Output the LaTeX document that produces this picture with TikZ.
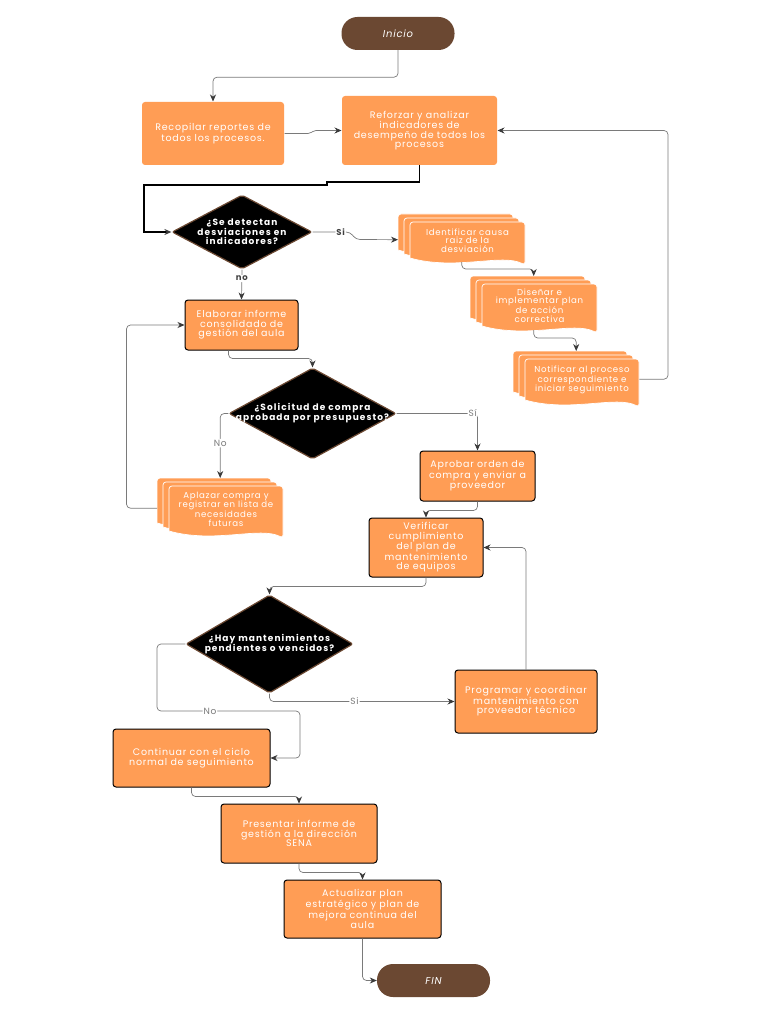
\documentclass[tikz,border=0pt]{standalone}
\usepackage{fontspec}
\setmainfont{Poppins}
\newfontfamily\boxfont[LetterSpace=8]{Poppins}
\newfontfamily\decfont[LetterSpace=12]{Poppins}
\usetikzlibrary{shapes.geometric,arrows.meta}
\definecolor{orng}{HTML}{FF9D55}
\definecolor{brwn}{HTML}{6B4832}
\definecolor{lgray}{HTML}{7A7A7A}
\definecolor{tipc}{HTML}{3A3A3A}
\tikzset{
  box/.style={rectangle, rounded corners=3pt, fill=orng, draw=black, line width=1pt, text=white, align=center, font=\boxfont\fontsize{9.5}{9.4}\selectfont, inner sep=0pt},
  boxnb/.style={box, draw=none},
  term/.style={rectangle, rounded corners=16pt, fill=brwn, draw=none, text=white, font=\boxfont\itshape\fontsize{10}{11}\selectfont, minimum width=113pt, minimum height=33pt},
  dec/.style={diamond, fill=black, draw=brwn, line width=1.2pt, rounded corners=2pt, inner sep=0pt},
  dtext/.style={text=white, align=center, font=\decfont\bfseries\fontsize{9}{8.8}\selectfont},
  conn/.style={draw=lgray, line width=0.7pt, rounded corners=4pt, -{Stealth[length=7pt,width=6pt,color=tipc]}},
  lbl/.style={text=lgray, fill=white, inner sep=1pt, font=\boxfont\fontsize{9}{10}\selectfont},
  lblb/.style={text=black!75, fill=white, inner sep=1pt, font=\boxfont\bfseries\fontsize{8.5}{9}\selectfont},
  page/.style={fill=orng, draw=white, line width=0.7pt},
  dtxt/.style={text=white, align=center, font=\boxfont\fontsize{8.6}{8.5}\selectfont},
}
% multi-document: #1 name, #2 front x0, #3 front y0, #4 W, #5 H, #6 text
\newcommand\mdoc[6]{%
  \foreach \k in {2,1,0}{%
    \pgfmathsetmacro\px{#2-6*\k}%
    \pgfmathsetmacro\py{#3-4*\k}%
    \draw[page, rounded corners=3pt] (\px,{\py+#5-7}) -- (\px,\py) -- ({\px+#4},\py) -- ({\px+#4},{\py+#5})
      [sharp corners] .. controls ({\px+0.8*#4},{\py+#5-12}) and ({\px+0.4*#4},{\py+#5+6}) .. (\px,{\py+#5-7}) -- cycle;
  }%
  \node[minimum width={#4+12}, minimum height={#5+8}, inner sep=0pt, anchor=north west] (#1) at ({#2-12},{#3-8}) {};
  \coordinate (#1-b) at ({#2+0.45*#4},{#3+#5-3});
  \node[dtxt] (#1t) at ({#2+0.5*#4},{#3+0.5*(#5-6)}) {#6};
}
\begin{document}
\begin{tikzpicture}[x=1pt,y=-1pt]
\useasboundingbox (0,0) rectangle (768,1024);
\fill[white] (0,0) rectangle (768,1024);

% nodes
\node[term] (ini) at (398,33.5) {Inicio};
\node[boxnb, minimum width=142pt, minimum height=63pt] (rec) at (213,133.5) {Recopilar reportes de\\todos los procesos.};
\node[boxnb, minimum width=155pt, minimum height=69pt] (ref) at (419.5,130.5) {Reforzar y analizar\\indicadores de\\desempeño de todos los\\procesos};
\node[dec, minimum width=140pt, minimum height=74pt] (d1) at (242,232) {};
\node[dtext] at (d1) {¿Se detectan\\desviaciones en\\indicadores?};
\node[box, minimum width=113pt, minimum height=50pt] (ela) at (241.5,325) {Elaborar informe\\consolidado de\\gestión del aula};
\node[dec, minimum width=167pt, minimum height=91pt] (d2) at (312.5,413.5) {};
\node[dtext] at (d2) {¿Solicitud de compra\\aprobada por presupuesto?};
\node[box, minimum width=115pt, minimum height=50pt] (apr) at (477.5,476) {Aprobar orden de\\compra y enviar a\\proveedor};
\node[box, minimum width=114pt, minimum height=59pt] (ver) at (426,547.5) {Verificar\\cumplimiento\\del plan de\\mantenimiento\\de equipos};
\node[dec, minimum width=167pt, minimum height=98pt] (d3) at (269.5,644) {};
\node[dtext] at (d3) {¿Hay mantenimientos\\pendientes o vencidos?};
\node[box, minimum width=142pt, minimum height=63pt] (pro) at (526,701.5) {Programar y coordinar\\mantenimiento con\\proveedor técnico};
\node[box, minimum width=157pt, minimum height=58pt] (con) at (191.5,758) {Continuar con el ciclo\\normal de seguimiento};
\node[box, minimum width=156pt, minimum height=59pt] (pre) at (299,833.5) {Presentar informe de\\gestión a la dirección\\SENA};
\node[box, minimum width=157pt, minimum height=58pt] (act) at (362.5,909) {Actualizar plan\\estratégico y plan de\\mejora continua del\\aula};
\node[term] (fin) at (433.5,980.5) {FIN};

\mdoc{idn}{410}{222}{115}{43}{Identificar causa\\raiz de la\\desviación}
\mdoc{dis}{482}{284}{115}{49}{Diseñar e\\implementar plan\\de acción\\correctiva}
\mdoc{noti}{525}{359}{114}{48}{Notificar al proceso\\correspondiente e\\iniciar seguimiento}
\mdoc{apl}{169}{486}{114}{52}{Aplazar compra y\\registrar en lista de\\necesidades\\futuras}

% connectors
\draw[conn] (ini.south) -- ++(0,27) -| (rec.north);
\draw[conn, rounded corners=2pt] (rec.east) -- (310,133.5) -- (314,130.5) -- (ref.west);
\draw[line width=1.6pt, black, -{Stealth[length=7pt,width=6pt,color=tipc]}] (ref.south) -- (419.5,182) -- (327,182) -- (327,185) -- (144,185) -- (144,232) -- (d1.west);
\draw[conn] (d1.east) -- node[lblb, pos=0.75]{Si} (350,232) -- (356,239.5) -- (idn.west);
\draw[conn] (d1.south) -- node[lblb, pos=0.3]{no} (ela.north);
\draw[conn] (idn-b) -- ++(0,7) -| (dis.north);
\draw[conn] (dis-b) -- ++(0,8) -| (noti.north);
\coordinate (r1) at (668,130.5);
\draw[conn] (noti.east) -| (r1) -- (ref.east);
\draw[conn] ([xshift=-13pt]ela.south) -- ++(0,8) -| (d2.north);
\draw[conn] (d2.east) -| node[lbl, pos=0.47]{Sí} (apr.north);
\draw[conn] (d2.west) -| node[lbl, pos=0.73]{No} (apl.north);
\draw[conn] (apl.west) -| ([xshift=-58pt]ela.west) -- (ela.west);
\draw[conn] (apr.south) -- ++(0,9) -| (ver.north);
\draw[conn] (ver.south) -- ++(0,9) -| (d3.north);
\draw[conn] (d3.south) |- node[lbl, pos=0.73]{Si} (pro.west);
\draw[conn] (d3.west) -| (157,711) -- node[lbl, pos=0.37]{No} (300,711) |- (con.east);
\draw[conn] (pro.north) |- (ver.east);
\draw[conn] (con.south) -- ++(0,9) -| (pre.north);
\draw[conn] (pre.south) -- ++(0,9) -| (act.north);
\draw[conn] (act.south) |- (fin.west);
\end{tikzpicture}
\end{document}
